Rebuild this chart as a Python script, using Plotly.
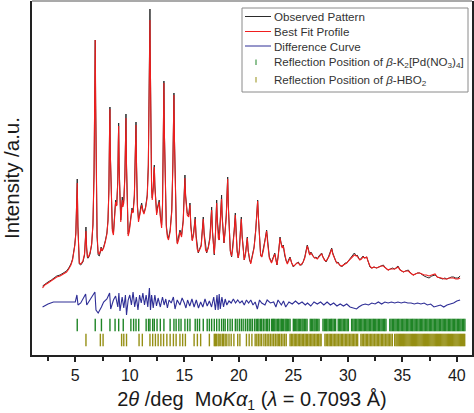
import plotly.graph_objects as go

# ---------------- data ----------------
two_theta = [
    2.0, 2.2, 2.5, 2.8, 3.0, 3.3, 3.6, 3.9, 4.2, 4.4,
    4.6, 4.75, 4.85, 4.95, 5.05, 5.12, 5.18, 5.24, 5.3, 5.37,
    5.5, 5.7, 5.85, 5.93, 5.98, 6.04, 6.12, 6.2, 6.35, 6.5,
    6.62, 6.72, 6.8, 6.83, 6.87, 6.93, 7.0, 7.1, 7.2, 7.3,
    7.37, 7.45, 7.6, 7.75, 7.9, 8.0, 8.08, 8.15, 8.18, 8.22,
    8.3, 8.4, 8.5, 8.6, 8.7, 8.8, 8.9, 8.95, 8.98, 9.02,
    9.1, 9.17, 9.25, 9.31, 9.37, 9.45, 9.55, 9.62, 9.65, 9.7,
    9.77, 9.85, 9.95, 10.1, 10.2, 10.3, 10.42, 10.5, 10.57, 10.62,
    10.7, 10.8, 10.9, 11.0, 11.09, 11.2, 11.3, 11.45, 11.6, 11.7,
    11.78, 11.82, 11.85, 11.88, 11.94, 12.0, 12.06, 12.15, 12.22, 12.25,
    12.3, 12.38, 12.46, 12.55, 12.7, 12.8, 12.92, 13.0, 13.07, 13.13,
    13.18, 13.26, 13.35, 13.45, 13.55, 13.7, 13.85, 13.95, 14.02, 14.05,
    14.1, 14.18, 14.28, 14.36, 14.5, 14.6, 14.75, 14.9, 15.0, 15.06,
    15.12, 15.2, 15.27, 15.4, 15.47, 15.52, 15.6, 15.73, 15.85, 15.95,
    16.0, 16.08, 16.18, 16.28, 16.4, 16.55, 16.65, 16.74, 16.82, 16.95,
    17.05, 17.2, 17.35, 17.45, 17.51, 17.58, 17.68, 17.75, 17.85, 17.92,
    17.97, 18.03, 18.12, 18.2, 18.3, 18.38, 18.42, 18.47, 18.56, 18.64,
    18.75, 18.85, 18.93, 18.98, 19.04, 19.12, 19.22, 19.34, 19.45, 19.58,
    19.68, 19.75, 19.85, 19.95, 20.05, 20.15, 20.23, 20.3, 20.4, 20.5,
    20.62, 20.72, 20.78, 20.86, 20.98, 21.09, 21.25, 21.4, 21.55, 21.65,
    21.73, 21.8, 21.9, 22.0, 22.1, 22.25, 22.4, 22.55, 22.65, 22.8,
    23.0, 23.15, 23.3, 23.42, 23.5, 23.62, 23.72, 23.78, 23.88, 23.98,
    24.08, 24.2, 24.35, 24.45, 24.6, 24.7, 24.85, 25.0, 25.15, 25.3,
    25.46, 25.6, 25.76, 25.9, 26.05, 26.18, 26.28, 26.38, 26.5, 26.6,
    26.68, 26.8, 26.95, 27.08, 27.2, 27.35, 27.5, 27.6, 27.72, 27.85,
    28.0, 28.15, 28.3, 28.42, 28.52, 28.62, 28.75, 28.88, 28.98, 29.1,
    29.25, 29.43, 29.6, 29.75, 29.9, 30.05, 30.2, 30.35, 30.5, 30.6,
    30.66, 30.75, 30.85, 30.96, 31.1, 31.25, 31.4, 31.55, 31.73, 31.85,
    32.03, 32.2, 32.4, 32.64, 32.85, 33.05, 33.26, 33.45, 33.7, 33.9,
    34.1, 34.3, 34.47, 34.6, 34.8, 35.1, 35.3, 35.55, 35.75, 36.0,
    36.2, 36.4, 36.6, 36.8, 37.0, 37.2, 37.45, 37.7, 38.0, 38.2,
    38.45, 38.7, 38.9, 39.07, 39.3, 39.5, 39.7, 39.9, 40.1, 40.3,
]

observed = [
    69, 71, 73, 75, 77, 79, 80, 82, 84, 87,
    91, 96, 102, 110, 122, 145, 176, 130, 100, 91,
    90, 93, 100, 115, 128, 108, 97, 97, 101, 110,
    130, 180, 290, 315, 250, 160, 118, 100, 99, 103,
    108, 104, 108, 114, 122, 135, 165, 230, 248, 200,
    150, 126, 122, 135, 155, 150, 175, 215, 232, 190,
    145, 135, 148, 158, 150, 155, 180, 225, 241, 190,
    140, 121, 125, 138, 147, 143, 160, 200, 233, 190,
    150, 136, 140, 148, 152, 145, 142, 148, 160, 190,
    270, 330, 346, 300, 210, 168, 157, 168, 186, 190,
    170, 150, 142, 148, 155, 140, 130, 150, 210, 274,
    220, 160, 130, 120, 117, 125, 145, 190, 245, 262,
    215, 155, 122, 112, 118, 125, 120, 135, 165, 180,
    160, 145, 142, 140, 150, 152, 130, 115, 122, 135,
    138, 120, 108, 102, 106, 110, 125, 138, 122, 106,
    102, 108, 118, 138, 148, 125, 104, 100, 120, 145,
    155, 135, 118, 115, 135, 155, 160, 140, 118, 112,
    125, 140, 165, 178, 150, 120, 104, 98, 108, 125,
    142, 125, 104, 97, 105, 125, 138, 120, 102, 95,
    102, 112, 118, 105, 95, 92, 100, 108, 125, 140,
    155, 138, 112, 100, 98, 105, 115, 125, 112, 98,
    93, 97, 102, 95, 90, 100, 112, 118, 112, 108,
    110, 100, 94, 92, 96, 98, 92, 88, 90, 92,
    93, 90, 90, 93, 98, 105, 110, 106, 100, 103,
    102, 99, 97, 98, 96, 99, 101, 102, 98, 95,
    93, 96, 100, 104, 107, 102, 97, 94, 92, 93,
    90, 88, 90, 92, 92, 94, 97, 99, 100, 102,
    101, 99, 100, 97, 95, 97, 99, 97, 98, 94,
    88, 87, 88, 87, 88, 89, 90, 87, 85, 86,
    87, 86, 88, 89, 85, 83, 84, 85, 82, 80,
    81, 82, 82, 80, 79, 78, 77, 79, 80, 78,
    77, 76, 77, 76, 77, 78, 78, 77, 77, 79,
]

calculated = [
    67, 70, 72, 74, 76, 78, 79, 81, 83, 86,
    90, 95, 101, 109, 121, 142, 172, 128, 101, 92,
    91, 94, 101, 114, 124, 106, 98, 98, 102, 111,
    131, 182, 292, 315, 252, 162, 120, 102, 101, 104,
    107, 104, 107, 113, 121, 134, 163, 228, 246, 199,
    149, 124, 120, 133, 153, 149, 173, 212, 229, 188,
    143, 133, 146, 155, 148, 152, 178, 222, 237, 188,
    138, 119, 123, 136, 145, 142, 158, 198, 230, 188,
    148, 133, 138, 146, 150, 144, 141, 147, 158, 188,
    265, 322, 335, 295, 206, 166, 155, 166, 184, 188,
    168, 148, 140, 146, 153, 138, 127, 148, 208, 272,
    218, 158, 128, 118, 115, 123, 143, 188, 243, 260,
    213, 153, 120, 111, 116, 123, 118, 133, 163, 177,
    158, 143, 140, 138, 148, 150, 128, 114, 120, 133,
    136, 118, 106, 103, 105, 109, 123, 136, 120, 105,
    103, 107, 116, 135, 145, 123, 103, 101, 118, 142,
    152, 133, 117, 115, 133, 152, 156, 138, 117, 112,
    124, 138, 162, 176, 148, 119, 104, 99, 107, 124,
    140, 123, 103, 97, 104, 123, 136, 119, 101, 95,
    101, 111, 117, 104, 95, 91, 99, 107, 124, 139,
    154, 137, 111, 100, 98, 104, 114, 124, 111, 97,
    92, 96, 101, 94, 90, 99, 111, 117, 111, 107,
    109, 100, 94, 91, 95, 97, 92, 89, 90, 92,
    92, 90, 91, 93, 97, 104, 109, 105, 100, 102,
    101, 99, 97, 97, 96, 98, 100, 101, 98, 95,
    94, 96, 99, 103, 106, 101, 97, 94, 92, 92,
    90, 89, 90, 91, 92, 94, 96, 98, 99, 100,
    100, 99, 99, 97, 95, 96, 98, 97, 98, 94,
    89, 87, 88, 87, 88, 89, 89, 87, 85, 86,
    86, 86, 87, 88, 85, 83, 84, 84, 82, 80,
    81, 82, 82, 81, 80, 80, 79, 80, 81, 78,
    77, 76, 76, 76, 77, 77, 77, 76, 76, 77,
]

diff_theta = [
    2.0, 2.5, 3.0, 4.0, 5.0, 5.15, 5.25, 5.5, 5.95, 6.05,
    6.3, 6.8, 6.9, 7.1, 7.4, 7.6, 7.9, 8.15, 8.25, 8.5,
    8.7, 8.9, 9.0, 9.1, 9.3, 9.45, 9.6, 9.7, 9.85, 10.0,
    10.15, 10.3, 10.45, 10.6, 10.75, 10.9, 11.05, 11.2, 11.35, 11.5,
    11.65, 11.8, 11.9, 12.0, 12.15, 12.3, 12.45, 12.6, 12.8, 13.0,
    13.15, 13.3, 13.45, 13.6, 13.8, 14.0, 14.15, 14.35, 14.6, 14.8,
    15.0, 15.15, 15.3, 15.5, 15.7, 15.9, 16.1, 16.3, 16.5, 16.7,
    16.9, 17.1, 17.3, 17.5, 17.7, 17.85, 18.0, 18.1, 18.2, 18.3,
    18.45, 18.6, 18.75, 18.9, 19.1, 19.3, 19.5, 19.7, 19.9, 20.1,
    20.3, 20.5, 20.7, 20.9, 21.1, 21.3, 21.5, 21.7, 21.9, 22.1,
    22.4, 22.6, 22.9, 23.2, 23.4, 23.6, 23.9, 24.1, 24.3, 24.6,
    24.9, 25.2, 25.5, 25.8, 26.1, 26.3, 26.6, 26.9, 27.2, 27.5,
    27.8, 28.1, 28.4, 28.7, 29.0, 29.3, 29.6, 29.9, 30.2, 30.5,
    30.8, 31.0, 31.3, 31.6, 31.9, 32.2, 32.5, 32.8, 33.1, 33.4,
    33.7, 34.0, 34.3, 34.6, 34.9, 35.2, 35.5, 35.8, 36.1, 36.4,
    36.7, 37.0, 37.3, 37.6, 37.9, 38.2, 38.5, 38.8, 39.1, 39.4,
    39.7, 40.0, 40.3,
]

difference = [
    48, 51, 53, 53, 53, 60, 50, 52, 61, 50,
    54, 63, 45, 42, 48, 53, 56, 62, 46, 55,
    59, 48, 62, 44, 58, 47, 60, 40, 55, 60,
    50, 63, 48, 58, 45, 60, 52, 62, 50, 60,
    48, 67, 45, 60, 47, 60, 49, 57, 48, 58,
    50, 56, 47, 55, 52, 58, 46, 55, 50, 57,
    52, 47, 55, 49, 56, 48, 55, 47, 53, 48,
    56, 49, 54, 48, 58, 45, 60, 45, 61, 46,
    58, 48, 56, 50, 54, 52, 56, 52, 55, 52,
    54, 50, 55, 52, 55, 50, 53, 46, 55, 52,
    50, 55, 52, 53, 48, 55, 50, 54, 48, 53,
    51, 54, 51, 53, 50, 52, 49, 53, 51, 53,
    50, 53, 50, 52, 49, 51, 49, 51, 48, 47,
    46, 48, 50, 51, 50, 52, 51, 53, 51, 53,
    52, 53, 52, 53, 52, 53, 52, 52, 51, 52,
    51, 52, 50, 51, 48, 49, 50, 48, 50, 51,
    52, 54, 55,
]

refl_k2pd = [
    5.18, 6.83, 7.4, 8.18, 8.65, 8.98, 9.4, 10.1, 10.35, 10.57, 10.82,
    11.5, 11.72, 11.85, 12.1, 12.25, 12.5, 12.8, 13.13, 13.7, 14.05,
    14.25, 14.5, 14.7, 15.06, 15.3, 15.52, 16.0, 16.2, 16.4, 16.74,
    17.1, 17.3, 17.51, 17.75, 17.97, 18.2, 18.42, 18.6, 18.75, 18.98,
    19.2, 19.4, 19.68, 19.85, 20.05, 20.23, 20.4, 20.6, 20.78, 20.95,
    21.1, 21.25, 21.45, 21.6, 21.73, 21.85, 22.0, 22.1, 22.25, 22.4,
    22.55, 22.65, 22.8, 23.0, 23.1, 23.2, 23.3, 23.42, 23.55, 23.65,
    23.78, 23.9, 24.0, 24.12, 24.25, 24.35, 24.45, 24.58, 24.7, 25.0,
    25.1, 25.22, 25.33, 25.45, 25.56, 25.68, 25.8, 25.9, 26.02, 26.14,
    26.26, 26.55, 26.66, 26.78, 26.9, 27.0, 27.12, 27.24, 27.36, 27.72,
    27.84, 27.95, 28.06, 28.18, 28.3, 28.42, 28.52, 28.64, 28.76, 28.88,
    29.12, 29.24, 29.35, 29.46, 29.58, 29.7, 29.82, 29.94, 30.05, 30.35,
    30.46, 30.58, 30.7, 30.82, 30.94, 31.05, 31.17, 31.28, 31.4, 31.52,
    31.64, 31.75, 31.86, 31.98, 32.1, 32.22, 32.34, 32.45, 32.56, 32.68,
    32.8, 32.92, 33.04, 33.15, 33.27, 33.38, 33.5, 33.85, 33.96, 34.08,
    34.2, 34.32, 34.43, 34.55, 34.66, 34.78, 34.9, 35.02, 35.14, 35.25,
    35.37, 35.48, 35.6, 35.72, 35.84, 35.95, 36.07, 36.18, 36.3, 36.42,
    36.54, 36.65, 36.77, 36.88, 37.0, 37.12, 37.24, 37.35, 37.47, 37.58,
    37.7, 37.82, 37.94, 38.05, 38.17, 38.28, 38.4, 38.52, 38.64, 38.75,
    38.87, 38.98, 39.1, 39.22, 39.34, 39.45, 39.57, 39.68, 39.8, 39.92,
    40.04, 40.15, 40.27, 40.38, 40.5, 40.62, 40.74,
]

refl_hbo2 = [
    5.98, 7.3, 7.55, 9.25, 9.45, 9.7, 10.85, 11.15, 11.85, 12.1,
    12.35, 12.6, 12.85, 13.1, 13.4, 13.7, 14.0, 14.25, 14.6, 14.85,
    15.1, 15.9, 16.2, 16.5, 17.3, 17.75, 17.85, 17.95, 18.1, 18.2,
    18.35, 18.5, 18.6, 18.75, 18.9, 19.1, 19.3, 19.55, 19.9, 20.1,
    20.7, 20.95, 21.2, 21.5, 21.65, 21.8, 21.95, 22.1, 22.3, 22.45,
    22.6, 22.75, 22.9, 23.05, 23.2, 23.35, 23.5, 23.62, 23.75, 23.9,
    24.05, 24.2, 24.35, 24.7, 24.82, 24.95, 25.08, 25.2, 25.32, 25.45,
    25.58, 25.7, 25.82, 25.95, 26.08, 26.2, 26.32, 26.45, 26.58, 26.7,
    26.82, 26.95, 27.08, 27.2, 27.32, 27.45, 27.55, 27.9, 28.02, 28.15,
    28.28, 28.4, 28.52, 28.65, 28.78, 28.9, 29.02, 29.15, 29.28, 29.4,
    29.52, 29.65, 29.78, 29.9, 30.02, 30.15, 30.28, 30.4, 30.52, 30.65,
    30.78, 30.9, 31.2, 31.32, 31.45, 31.58, 31.7, 31.82, 31.95, 32.08,
    32.2, 32.32, 32.45, 32.58, 32.7, 32.82, 32.95, 33.08, 33.2, 33.32,
    33.45, 33.58, 33.7, 33.82, 33.95, 34.08, 34.3, 34.42, 34.52, 34.62,
    34.72, 34.82, 34.92, 35.02, 35.12, 35.22, 35.32, 35.42, 35.52, 35.62,
    35.72, 35.82, 35.92, 36.02, 36.12, 36.22, 36.32, 36.42, 36.52, 36.62,
    36.72, 36.82, 36.92, 37.02, 37.12, 37.22, 37.32, 37.42, 37.52, 37.62,
    37.72, 37.82, 37.92, 38.02, 38.12, 38.22, 38.32, 38.42, 38.52, 38.62,
    38.72, 38.82, 38.92, 39.02, 39.12, 39.22, 39.32, 39.42, 39.52, 39.62,
    39.72, 39.82, 39.92, 40.02, 40.12, 40.22, 40.32, 40.42, 40.52, 40.62,
    40.72,
]

x_tick_values = [5, 10, 15, 20, 25, 30, 35, 40]

legend_labels = [
    "Observed Pattern",
    "Best Fit Profile",
    "Difference Curve",
    "Reflection Position of <i>β</i>-K<sub>2</sub>[Pd(NO<sub>3</sub>)<sub>4</sub>]",
    "Reflection Position of <i>β</i>-HBO<sub>2</sub>",
]

# ---------------- styling ----------------
FONT = "Arial, 'Liberation Sans', sans-serif"
C_OBS = "#2b2b2b"
C_CALC = "#f01e1e"
C_DIFF = "#2e2e96"
C_K2PD = "#1f8526"
C_HBO2 = "#958f14"
ROW_K2PD = 30
ROW_HBO2 = 15

W, H = 474, 413
ML, MR, MT, MB = 32, 2, 1, 58
PW, PH = W - ML - MR, H - MT - MB


def fx(p):
    return (p - ML) / PW


def fy(p):
    return (H - MB - p) / PH


fig = go.Figure()
fig.add_trace(go.Scatter(x=two_theta, y=observed, mode="lines",
                         line=dict(color=C_OBS, width=1.0), name=legend_labels[0]))
fig.add_trace(go.Scatter(x=two_theta, y=calculated, mode="lines",
                         line=dict(color=C_CALC, width=1.1), name=legend_labels[1]))
fig.add_trace(go.Scatter(x=diff_theta, y=difference, mode="lines",
                         line=dict(color=C_DIFF, width=1.1), name=legend_labels[2]))
fig.add_trace(go.Scatter(x=refl_k2pd, y=[ROW_K2PD] * len(refl_k2pd), mode="markers",
                         marker=dict(symbol="line-ns", size=9,
                                     line=dict(color=C_K2PD, width=1.4)),
                         name=legend_labels[3]))
fig.add_trace(go.Scatter(x=refl_hbo2, y=[ROW_HBO2] * len(refl_hbo2), mode="markers",
                         marker=dict(symbol="line-ns", size=9,
                                     line=dict(color=C_HBO2, width=1.4)),
                         name=legend_labels[4]))

# ---------------- manual legend ----------------
shapes = [
    dict(type="rect", xref="paper", yref="paper", x0=fx(242), x1=fx(468),
         y0=fy(92), y1=fy(8), line=dict(color="#8a8a8a", width=1), fillcolor="white",
         layer="above"),
    dict(type="line", xref="paper", yref="paper", x0=fx(245), x1=fx(271),
         y0=fy(16.5), y1=fy(16.5), line=dict(color=C_OBS, width=1), layer="above"),
    dict(type="line", xref="paper", yref="paper", x0=fx(245), x1=fx(271),
         y0=fy(31.5), y1=fy(31.5), line=dict(color=C_CALC, width=1), layer="above"),
    dict(type="line", xref="paper", yref="paper", x0=fx(245), x1=fx(271),
         y0=fy(46), y1=fy(46), line=dict(color=C_DIFF, width=1), layer="above"),
    dict(type="line", xref="paper", yref="paper", x0=fx(256), x1=fx(256),
         y0=fy(65), y1=fy(59.5), line=dict(color=C_K2PD, width=1), layer="above"),
    dict(type="line", xref="paper", yref="paper", x0=fx(256), x1=fx(256),
         y0=fy(82.5), y1=fy(77), line=dict(color=C_HBO2, width=1), layer="above"),
    # top frame (greyish, as in the reference)
    dict(type="line", xref="paper", yref="paper", x0=0, x1=1, y0=1, y1=1,
         line=dict(color="#8c8c8c", width=1.5), layer="above"),
]

legend_y = [16.5, 31.5, 46, 62.5, 80]
annotations = []
for lab, yy in zip(legend_labels, legend_y):
    annotations.append(dict(xref="paper", yref="paper", x=fx(272), y=fy(yy),
                            xanchor="left", yanchor="middle", text=lab, showarrow=False,
                            font=dict(family=FONT, size=11.6, color="#333333")))

fig.update_layout(
    width=W, height=H,
    margin=dict(l=ML, r=MR, t=MT, b=MB),
    paper_bgcolor="white", plot_bgcolor="white",
    showlegend=False,
    shapes=shapes,
    annotations=annotations,
    font=dict(family=FONT, color="#1a1a1a"),
)

fig.update_xaxes(
    range=[1.03, 41.39], tickvals=x_tick_values, ticks="outside", ticklen=5,
    tickwidth=1.5, tickcolor="#222", showgrid=False, zeroline=False,
    showline=True, linecolor="#222", linewidth=1.5, mirror=False,
    tickfont=dict(family=FONT, size=16, color="#1a1a1a"),
    minor=dict(ticks="outside", ticklen=4, tickwidth=1.5, tickcolor="#222",
               dtick=2.5, tick0=0, showgrid=False),
    title=dict(text="2<i>θ</i> /deg  Mo<i>Kα</i><sub>1</sub> (<i>λ</i> = 0.7093 Å)",
               font=dict(family=FONT, size=20, color="#1a1a1a"), standoff=10),
    automargin=False,
)
fig.update_yaxes(
    range=[0, 354], showticklabels=False, ticks="", showgrid=False, zeroline=False,
    showline=True, linecolor="#222", linewidth=1.5, mirror=True,
    title=dict(text="Intensity /a.u.", font=dict(family=FONT, size=20.5, color="#1a1a1a"),
               standoff=19),
    automargin=False,
)

fig.write_html("out.html")
